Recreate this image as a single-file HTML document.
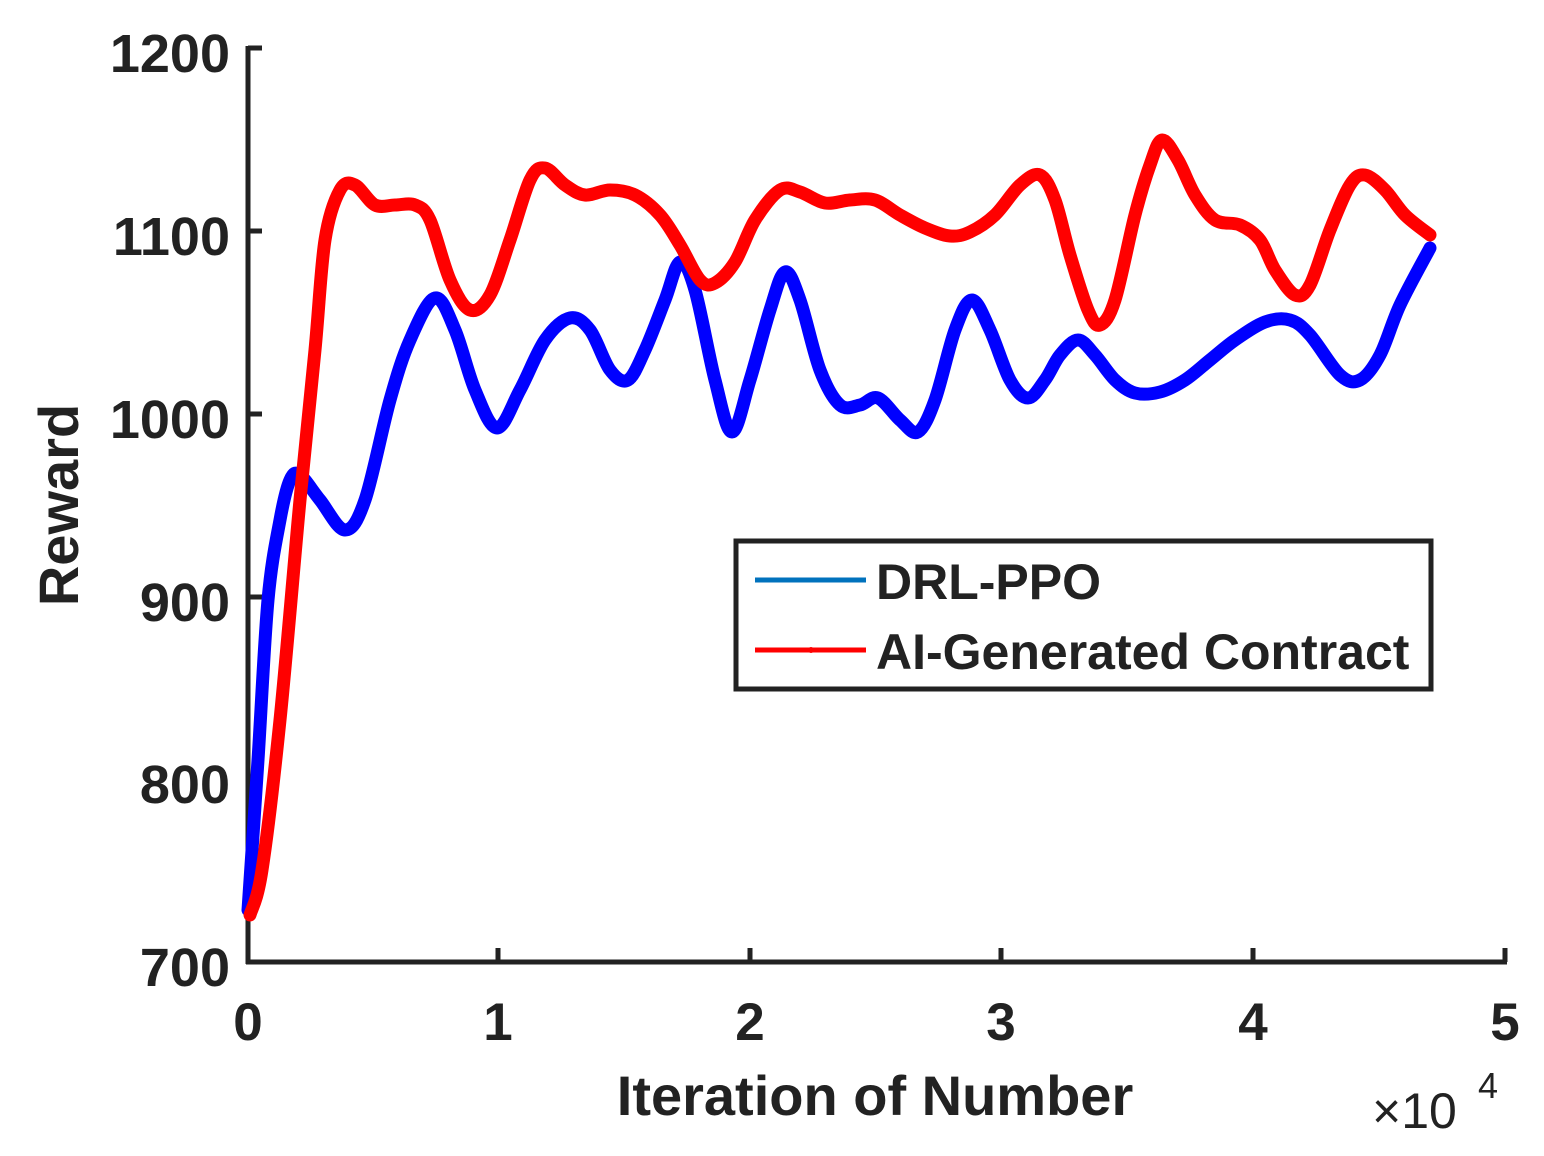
<!DOCTYPE html>
<html><head><meta charset="utf-8"><style>
html,body{margin:0;padding:0;background:#fff;}
svg{display:block;}
text{font-family:"Liberation Sans",Arial,sans-serif;font-weight:bold;fill:#222;}
text.n{font-weight:normal;}
</style></head><body>
<svg width="1544" height="1156" viewBox="0 0 1544 1156" xmlns="http://www.w3.org/2000/svg">
<g stroke="#222" stroke-width="5" fill="none">
<line x1="248" y1="46" x2="248" y2="964"/>
<line x1="246" y1="962" x2="1507" y2="962"/>
<line x1="498" y1="962" x2="498" y2="948"/>
<line x1="750" y1="962" x2="750" y2="948"/>
<line x1="1001" y1="962" x2="1001" y2="948"/>
<line x1="1253" y1="962" x2="1253" y2="948"/>
<line x1="1505" y1="962" x2="1505" y2="948"/>
<line x1="248" y1="48" x2="262" y2="48"/>
<line x1="248" y1="231" x2="262" y2="231"/>
<line x1="248" y1="414" x2="262" y2="414"/>
<line x1="248" y1="597" x2="262" y2="597"/>
<line x1="248" y1="779" x2="262" y2="779"/>
</g>
<g font-size="54" text-anchor="end">
<text x="230" y="72">1200</text>
<text x="230" y="255">1100</text>
<text x="230" y="438">1000</text>
<text x="230" y="621">900</text>
<text x="230" y="803">800</text>
<text x="230" y="986">700</text>
</g>
<g font-size="53" text-anchor="middle">
<text x="248" y="1040">0</text>
<text x="498" y="1040">1</text>
<text x="750" y="1040">2</text>
<text x="1001" y="1040">3</text>
<text x="1253" y="1040">4</text>
<text x="1505" y="1040">5</text>
</g>
<text x="875" y="1115" font-size="56" text-anchor="middle">Iteration of Number</text>
<text transform="translate(78,505) rotate(-90)" font-size="56" text-anchor="middle">Reward</text>
<text class="n" x="1372" y="1128" font-size="50">×10</text>
<text class="n" x="1478" y="1098" font-size="36">4</text>
<g fill="none" stroke-width="13" stroke-linejoin="round" stroke-linecap="round">
<path id="pb" stroke="#0000ff" d=""/>
<path id="pr" stroke="#ff0000" d=""/>
</g>
<rect x="736" y="541" width="695" height="148" fill="#fff" stroke="#222" stroke-width="5"/>
<line x1="755" y1="580" x2="866" y2="580" stroke="#0072bd" stroke-width="5"/>
<line x1="755" y1="650" x2="866" y2="650" stroke="#ff0000" stroke-width="5"/>
<circle cx="811" cy="650" r="3" fill="#ff0000"/>
<text x="876" y="599" font-size="50">DRL-PPO</text>
<text x="876" y="669" font-size="50">AI-Generated Contract</text>
</svg>
<script>
function cr(s){var p=s.trim().split(/\s+/).map(function(t){return t.split(',').map(Number);});
var d='M'+p[0][0]+','+p[0][1];
for(var i=0;i<p.length-1;i++){var p0=p[i-1]||p[i],p1=p[i],p2=p[i+1],p3=p[i+2]||p2;
d+=' C'+(p1[0]+(p2[0]-p0[0])/6)+','+(p1[1]+(p2[1]-p0[1])/6)+' '+(p2[0]-(p3[0]-p1[0])/6)+','+(p2[1]-(p3[1]-p1[1])/6)+' '+p2[0]+','+p2[1];}
return d;}
document.getElementById('pb').setAttribute('d',cr("248,910 258,760 268,600 280,520 290,480 300,475 320,500 345,530 365,500 390,400 410,340 435,298 455,330 475,390 497,428 520,390 545,340 570,318 590,330 610,370 628,380 645,350 665,300 680,262 695,290 715,380 732,432 750,380 770,310 785,272 800,300 820,370 840,405 860,405 878,398 900,420 918,432 935,400 955,330 972,300 990,330 1010,380 1028,398 1045,380 1060,355 1078,340 1095,355 1115,380 1135,393 1160,392 1185,380 1210,360 1235,340 1265,322 1290,320 1310,335 1340,375 1360,380 1380,355 1400,305 1430,248"));
document.getElementById('pr').setAttribute('d',cr("250,915 262,870 280,720 300,500 315,350 325,240 340,190 355,185 375,205 395,205 415,205 430,220 450,280 470,310 490,295 510,240 530,180 545,168 565,185 585,195 610,190 635,195 660,215 680,245 700,280 715,283 735,262 755,220 780,190 800,192 825,203 850,200 875,200 900,215 925,228 950,236 970,232 995,215 1020,185 1040,175 1055,200 1070,255 1088,310 1100,325 1115,300 1135,215 1150,165 1162,140 1178,160 1195,195 1215,220 1240,225 1260,240 1275,270 1295,295 1310,285 1330,230 1350,185 1365,175 1385,190 1405,215 1430,235"));
</script>
</body></html>
